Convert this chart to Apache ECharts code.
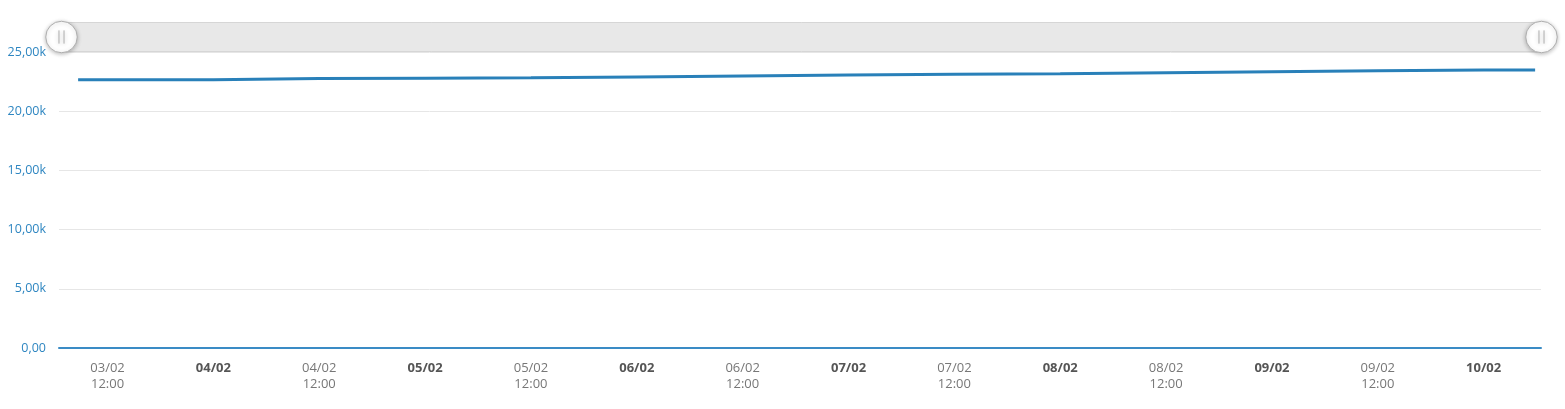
<!DOCTYPE html>
<html>
<head>
<meta charset="utf-8">
<script src="https://cdn.jsdelivr.net/npm/echarts@6/dist/echarts.min.js"></script>
<style>
    html, body { margin: 0; padding: 0; background: #fff; }
    #chart { width: 1565px; height: 409px; }
</style>
</head>
<body>
<div id="chart"></div>
<script>
    //数据 (日期 / 数值)
    let times = [
        '2024-02-03 08:40', '2024-02-03 12:00', '2024-02-04 00:00', '2024-02-04 12:00',
        '2024-02-05 00:00', '2024-02-05 12:00', '2024-02-06 00:00', '2024-02-06 12:00',
        '2024-02-07 00:00', '2024-02-07 12:00', '2024-02-08 00:00', '2024-02-08 12:00',
        '2024-02-09 00:00', '2024-02-09 12:00', '2024-02-10 00:00', '2024-02-10 05:50'
    ];
    let values = [
        22660, 22660, 22665, 22760,
        22785, 22820, 22890, 22975,
        23055, 23115, 23170, 23250,
        23335, 23420, 23475, 23480
    ];
    //坐标轴范围
    let axisStart = '2024-02-03 06:30';
    let axisEnd = '2024-02-10 06:30';
    let yTicks = [0, 5000, 10000, 15000, 20000, 25000];

    function parseTime(s) {
        let p = s.split(/[- :]/).map(Number);
        return new Date(p[0], p[1] - 1, p[2], p[3], p[4]).getTime();
    }
    function pad(n) {
        return n < 10 ? '0' + n : '' + n;
    }

    let chart = echarts.init(document.getElementById('chart'), null, {renderer: 'canvas'});
    chart.setOption({
        animation: false,
        textStyle: {fontFamily: 'Open Sans'},
        grid: {left: 59, right: 24, top: 52, bottom: 61},
        dataZoom: [{
            type: 'slider',
            xAxisIndex: 0,
            top: 22,
            height: 30,
            left: 59,
            right: 24,
            start: 0,
            end: 100,
            filterMode: 'none',
            backgroundColor: '#e8e8e8',
            borderColor: '#d6d6d6',
            fillerColor: 'rgba(0,0,0,0)',
            dataBackground: {lineStyle: {opacity: 0}, areaStyle: {opacity: 0}},
            selectedDataBackground: {lineStyle: {opacity: 0}, areaStyle: {opacity: 0}},
            showDetail: false,
            showDataShadow: false,
            brushSelect: false,
            moveHandleSize: 0,
            handleIcon: 'path://M0,-10A10,10,0,1,1,0,10A10,10,0,1,1,0,-10Z M-1.6,-4.2L-1.6,4.2 M1.6,-4.2L1.6,4.2',
            handleSize: '105%',
            handleStyle: {
                color: '#fff',
                borderColor: '#adadad',
                borderWidth: 1,
                shadowBlur: 4,
                shadowColor: 'rgba(0,0,0,0.25)',
                shadowOffsetY: 1
            }
        }],
        xAxis: {
            type: 'time',
            min: parseTime(axisStart),
            max: parseTime(axisEnd),
            splitNumber: 14,
            axisLine: {lineStyle: {color: '#3a8bc5', width: 2}},
            axisTick: {show: false},
            splitLine: {show: false},
            axisLabel: {
                showMinLabel: false,
                showMaxLabel: false,
                hideOverlap: false,
                interval: 0,
                margin: 12,
                color: '#777',
                fontSize: 13,
                lineHeight: 16,
                formatter: function (v) {
                    let d = new Date(v);
                    let h = d.getHours();
                    if (d.getMinutes() !== 0 || (h !== 0 && h !== 12)) return '';
                    let day = pad(d.getDate()) + '/' + pad(d.getMonth() + 1);
                    if (h === 0) {
                        return '{b|' + day + '}';
                    }
                    return day + '\n' + pad(h) + ':00';
                },
                rich: {
                    b: {fontWeight: 'bold', color: '#555', fontSize: 13, lineHeight: 16, fontFamily: 'Open Sans'}
                }
            }
        },
        yAxis: {
            type: 'value',
            min: yTicks[0],
            max: yTicks[yTicks.length - 1],
            interval: yTicks[1] - yTicks[0],
            axisLine: {show: false},
            axisTick: {show: false},
            splitLine: {lineStyle: {color: '#e6e6e6', width: 1}},
            axisLabel: {
                margin: 13,
                color: '#2e86c1',
                fontSize: 12.5,
                formatter: function (v) {
                    if (v === 0) return '0,00';
                    return (v / 1000).toFixed(2).replace('.', ',') + 'k';
                }
            }
        },
        series: [{
            type: 'line',
            showSymbol: false,
            symbol: 'none',
            data: times.map(function (t, i) {
                return [parseTime(t), values[i]];
            }),
            lineStyle: {color: '#2980b9', width: 3},
            itemStyle: {color: '#2980b9'}
        }]
    });
</script>
</body>
</html>
